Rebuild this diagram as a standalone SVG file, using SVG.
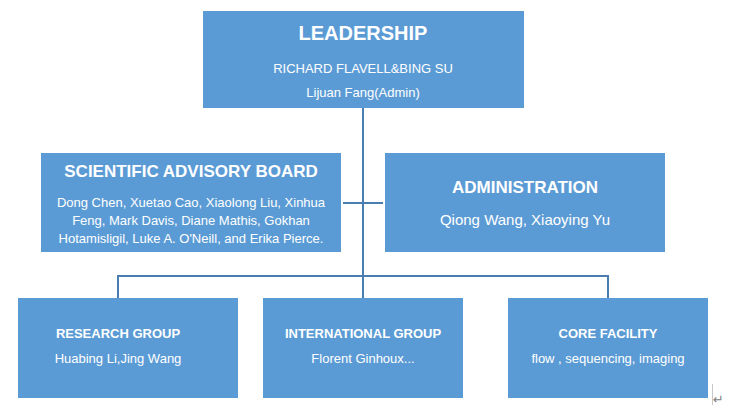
<svg xmlns="http://www.w3.org/2000/svg" width="742" height="417" viewBox="0 0 742 417">
<style>
.box{fill:#5B9BD5}
.t{fill:#fff;font-family:"Liberation Sans",Arial,sans-serif;text-anchor:middle}
.h{font-weight:bold}
.c{stroke:#4A7DB0;stroke-width:2;fill:none}
</style>
<rect width="742" height="417" fill="#fff"/>
<g id="connectors">
<path class="c" d="M363 108V300M343 203H383M118 276H608M118 275V298M363 275V298M608 275V298"/>
</g>
<g id="leadership">
<rect class="box" x="203" y="11" width="321" height="97"/>
<text class="t h" x="363" y="40" font-size="20">LEADERSHIP</text>
<text class="t" x="363" y="73" font-size="13">RICHARD FLAVELL&amp;BING SU</text>
<text class="t" x="363" y="97" font-size="13">Lijuan Fang(Admin)</text>
</g>
<g id="sab">
<rect class="box" x="41" y="153" width="300" height="99"/>
<text class="t h" x="191" y="177" font-size="17">SCIENTIFIC ADVISORY BOARD</text>
<text class="t" x="191" y="207" font-size="13">Dong Chen, Xuetao Cao, Xiaolong Liu, Xinhua</text>
<text class="t" x="191" y="225" font-size="13">Feng, Mark Davis, Diane Mathis, Gokhan</text>
<text class="t" x="191" y="243" font-size="13">Hotamisligil, Luke A. O'Neill, and Erika Pierce.</text>
</g>
<g id="administration">
<rect class="box" x="385" y="153" width="280" height="99"/>
<text class="t h" x="525" y="193" font-size="17">ADMINISTRATION</text>
<text class="t" x="525" y="225" font-size="15">Qiong Wang, Xiaoying Yu</text>
</g>
<g id="research">
<rect class="box" x="18" y="298" width="220" height="100"/>
<text class="t h" x="118" y="338" font-size="13">RESEARCH GROUP</text>
<text class="t" x="118" y="363" font-size="13">Huabing Li,Jing Wang</text>
</g>
<g id="international">
<rect class="box" x="263" y="298" width="200" height="100"/>
<text class="t h" x="363" y="338" font-size="13">INTERNATIONAL GROUP</text>
<text class="t" x="363" y="363" font-size="13">Florent Ginhoux...</text>
</g>
<g id="core">
<rect class="box" x="508" y="298" width="200" height="100"/>
<text class="t h" x="608" y="338" font-size="13">CORE FACILITY</text>
<text class="t" x="608" y="363" font-size="13">flow , sequencing, imaging</text>
</g>
<line x1="712.5" y1="384" x2="712.5" y2="405" stroke="#c8c8c8" stroke-width="1"/>
<text x="713" y="404" font-size="13" fill="#808080" font-family="DejaVu Sans,sans-serif">↵</text>
</svg>
